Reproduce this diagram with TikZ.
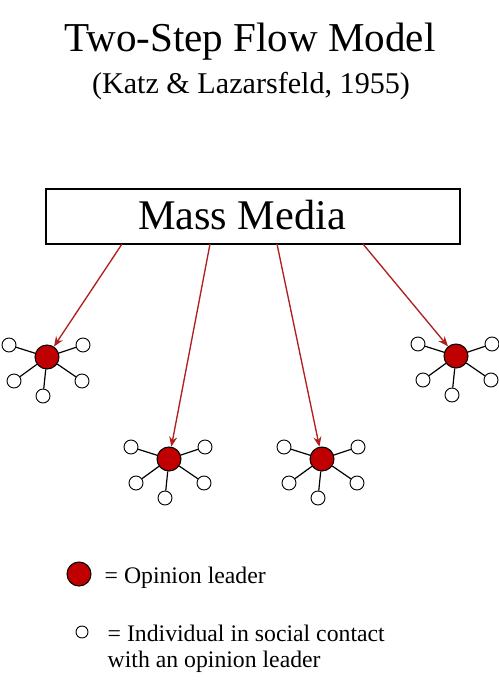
\documentclass[tikz,border=0pt]{standalone}
\usepackage{fontspec}
\setmainfont{Liberation Serif}
\usetikzlibrary{arrows.meta,positioning}
\definecolor{leaderred}{HTML}{C00000}
\definecolor{arrowred}{HTML}{B01E1E}

\tikzset{
  leader/.style={circle,draw=black,line width=0.8pt,fill=leaderred,minimum size=18pt,inner sep=0pt},
  contact/.style={circle,draw=black,line width=0.7pt,fill=white,minimum size=10.5pt,inner sep=0pt},
  tie/.style={line width=0.9pt,black},
  flow/.style={-{Stealth[length=7.5pt,width=6pt]},line width=1pt,arrowred}
}

\begin{document}
\begin{tikzpicture}[x=0.75pt,y=-0.75pt]
  \useasboundingbox (0,0) rectangle (499,683);
  % heading
  \node[anchor=base,font=\fontsize{30.8}{36}\selectfont] (title) at (250,51) {Two-Step Flow Model};
  \node[anchor=base,font=\fontsize{22.6}{27}\selectfont] (cite) at (251,93) {(Katz \& Lazarsfeld, 1955)};
  % source
  \node[draw,line width=1.1pt,minimum width=310.5pt,minimum height=41.25pt,inner sep=0pt] (media) at (253,216.5) {};
  \node[anchor=base,font=\fontsize{31.7}{36}\selectfont] (medialabel) at (242,229) {Mass Media};
  % opinion leaders
  \node[leader] (op1) at (47,357) {};
  \node[leader] (op2) at (169,459) {};
  \node[leader] (op3) at (322,459) {};
  \node[leader] (op4) at (456,356) {};
  % their contacts
  \foreach \l in {op1,op2,op3,op4}{
    \foreach \dx/\dy [count=\i] in {-38/-12,36/-12,-33/24,35/24,-4/39}{
      \node[contact] (\l c\i) at ([shift={(\dx,\dy)}]\l) {};
      \draw[tie] (\l) -- (\l c\i);
    }
  }
  % two-step flow
  \coordinate (src1) at (122,244);
  \coordinate (src2) at (210,244);
  \coordinate (src3) at (277,244);
  \coordinate (src4) at (363,244);
  \draw[flow] (src1) -- (op1);
  \draw[flow] (src2) -- (op2);
  \draw[flow] (src3) -- (op3);
  \draw[flow] (src4) -- (op4);
  % key
  \node[leader] (keyop) at (79,574) {};
  \node[contact,minimum size=9pt] (keyct) at (82,632) {};
  \node[anchor=base west,font=\fontsize{17.8}{21}\selectfont] (keyoptext) at (100,583) {= Opinion leader};
  \node[anchor=base west,align=left,font=\fontsize{17.8}{19.5}\selectfont] (keycttext) at (103,667) {= Individual in social contact\\with an opinion leader};
\end{tikzpicture}
\end{document}
